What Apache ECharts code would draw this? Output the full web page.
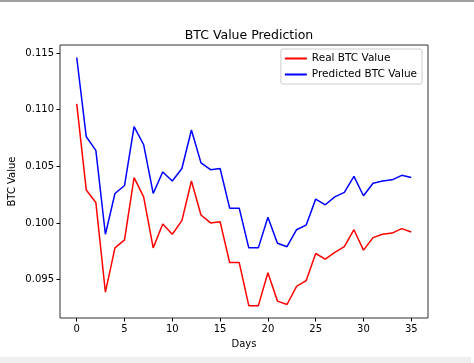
<!DOCTYPE html>
<html>
<head>
<meta charset="utf-8">
<script src="https://cdn.jsdelivr.net/npm/echarts@6/dist/echarts.min.js"></script>
<style>html,body{margin:0;padding:0;background:#fff}#c{width:474px;height:363px}</style>
</head>
<body>
<div id="c"></div>
<script>
const days = [0,1,2,3,4,5,6,7,8,9,10,11,12,13,14,15,16,17,18,19,20,21,22,23,24,25,26,27,28,29,30,31,32,33,34,35];
const realValues = [0.1105,0.1029,0.1018,0.0939,0.0978,0.0985,0.1040,0.1023,0.0978,0.0999,0.0990,0.1002,0.1037,0.1007,0.1000,0.1001,0.0965,0.0965,0.0927,0.0927,0.0956,0.0931,0.0928,0.0944,0.0949,0.0973,0.0968,0.0974,0.0979,0.0994,0.0976,0.0987,0.0990,0.0991,0.0995,0.0992];
const predictedValues = [0.1146,0.1076,0.1064,0.0990,0.1026,0.1033,0.1085,0.1069,0.1026,0.1045,0.1037,0.1048,0.1082,0.1053,0.1047,0.1048,0.1013,0.1013,0.0978,0.0978,0.1005,0.0982,0.0979,0.0994,0.0998,0.1021,0.1016,0.1023,0.1027,0.1041,0.1024,0.1035,0.1037,0.1038,0.1042,0.1040];
const xTicks = [0,5,10,15,20,25,30,35];
const yTicks = [0.095,0.100,0.105,0.110,0.115];

const font = 'DejaVu Sans';
const chart = echarts.init(document.getElementById('c'), null, {renderer:'canvas'});
chart.setOption({
  animation:false,
  backgroundColor:'#fff',
  textStyle:{fontFamily:font},
  title:{text:'BTC Value Prediction', left:244, top:24, textAlign:'center',
    textStyle:{fontFamily:font,fontSize:12.5,fontWeight:'normal',color:'#000'}},
  legend:{
    right:52, top:49, orient:'vertical', itemWidth:22, itemHeight:2, itemGap:5,
    padding:[4,5,4,4], borderColor:'#ccc', borderWidth:1, borderRadius:2,
    backgroundColor:'rgba(255,255,255,0.8)',
    textStyle:{fontFamily:font,fontSize:10.5,color:'#000'},
    icon:'rect',
    data:['Real BTC Value','Predicted BTC Value']
  },
  grid:{left:60,right:46,top:45,bottom:45,containLabel:false,outerBoundsMode:'none',show:true,borderColor:'#333',borderWidth:1,backgroundColor:'transparent'},
  xAxis:{type:'value',min:-1.75,max:36.75,
    name:'Days',nameLocation:'middle',nameGap:21,nameMoveOverlap:false,nameTextStyle:{fontFamily:font,fontSize:10,color:'#000'},
    axisLine:{show:false,onZero:false},splitLine:{show:false},
    axisTick:{show:true,inside:false,length:3.5,customValues:xTicks,lineStyle:{color:'#000'}},
    axisLabel:{customValues:xTicks,fontFamily:font,fontSize:10,color:'#000',margin:6}
  },
  yAxis:{type:'value',min:0.09161,max:0.1157,
    name:'BTC Value',nameLocation:'middle',nameGap:43,nameMoveOverlap:false,nameTextStyle:{fontFamily:font,fontSize:10,color:'#000'},
    axisLine:{show:false,onZero:false},splitLine:{show:false},
    axisTick:{show:true,inside:false,length:3.5,customValues:yTicks,lineStyle:{color:'#000'}},
    axisLabel:{customValues:yTicks,fontFamily:font,fontSize:10,color:'#000',margin:6,formatter:v=>v.toFixed(3)}
  },
  graphic:[
    {type:'rect',shape:{x:0,y:0,width:474,height:2},style:{fill:'#a0a0a0'},silent:true},
    {type:'rect',shape:{x:0,y:357,width:471,height:6},style:{fill:'#efefef'},silent:true}
  ],
  series:[
    {name:'Real BTC Value',type:'line',data:days.map((d,i)=>[d,realValues[i]]),
      showSymbol:false,symbol:'none',lineStyle:{color:'#ff0000',width:1.5},itemStyle:{color:'#ff0000'}},
    {name:'Predicted BTC Value',type:'line',data:days.map((d,i)=>[d,predictedValues[i]]),
      showSymbol:false,symbol:'none',lineStyle:{color:'#0000ff',width:1.5},itemStyle:{color:'#0000ff'}}
  ]
});
</script>
</body>
</html>
